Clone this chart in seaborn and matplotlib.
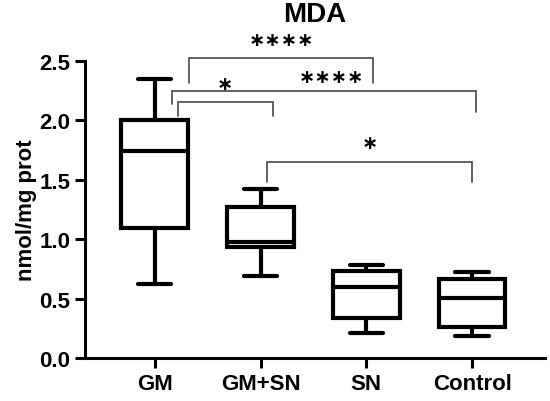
import pandas as pd
import seaborn as sns
import matplotlib.pyplot as plt

groups = ["GM", "GM+SN", "SN", "Control"]
gm = [0.62, 1.09, 1.74, 2.00, 2.35]
gm_sn = [0.69, 0.93, 0.98, 1.27, 1.42]
sn = [0.21, 0.34, 0.60, 0.73, 0.78]
control = [0.185, 0.26, 0.505, 0.665, 0.72]

# significance brackets: left x, right x, top y, left end y, right end y, label, label x, label y
brackets = [
    (0.32, 2.06, 2.525, 2.31, 2.31, "∗∗∗∗", 1.20, 2.68),
    (0.16, 3.04, 2.25, 2.14, 2.07, "∗∗∗∗", 1.67, 2.37),
    (0.22, 1.12, 2.155, 2.04, 2.04, "∗", 0.66, 2.31),
    (1.06, 3.00, 1.65, 1.48, 1.48, "∗", 2.03, 1.81),
]

df = pd.DataFrame({
    "group": [g for g, vals in zip(groups, [gm, gm_sn, sn, control]) for _ in vals],
    "value": gm + gm_sn + sn + control,
})

sns.set_style("ticks")
plt.rcParams["font.family"] = ["Liberation Sans", "DejaVu Sans"]
plt.rcParams["font.weight"] = "bold"
plt.rcParams["text.color"] = "black"
plt.rcParams["axes.labelcolor"] = "black"
plt.rcParams["xtick.color"] = "black"
plt.rcParams["ytick.color"] = "black"
plt.rcParams["axes.edgecolor"] = "black"

fig = plt.figure(figsize=(5.5, 4.02), dpi=100)
ax = fig.add_axes([0.1545, 0.107, 0.8365, 0.739])

sns.boxplot(data=df, x="group", y="value", order=groups, whis=(0, 100),
            width=0.63, color="white", linecolor="black", linewidth=3,
            ax=ax)

for x0, x1, ytop, yl, yr, lab, lx, ly in brackets:
    ax.plot([x0, x0, x1, x1], [yl, ytop, ytop, yr], color="#555555",
            lw=1.3, clip_on=False, solid_joinstyle="miter")
    ax.text(lx, ly, lab, ha="center", va="center", fontsize=14,
            fontweight="bold", family="DejaVu Sans", clip_on=False)

ax.set_xlim(-0.66, 3.69)
ax.set_ylim(0, 2.5)
ax.set_yticks([0, 0.5, 1.0, 1.5, 2.0, 2.5])
ax.set_yticklabels(["0.0", "0.5", "1.0", "1.5", "2.0", "2.5"])
ax.set_xlabel("")
ax.set_ylabel("nmol/mg prot", fontsize=16, fontweight="bold", labelpad=2)
fig.text(0.572, 0.962, "MDA", ha="center", va="center", fontsize=20,
         fontweight="bold")

for s in ["top", "right"]:
    ax.spines[s].set_visible(False)
for s in ["left", "bottom"]:
    ax.spines[s].set_linewidth(2.2)
ax.tick_params(axis="both", width=2.2, length=7, labelsize=16)
for t in ax.get_xticklabels() + ax.get_yticklabels():
    t.set_fontweight("bold")

fig.savefig("out.png", dpi=100)
